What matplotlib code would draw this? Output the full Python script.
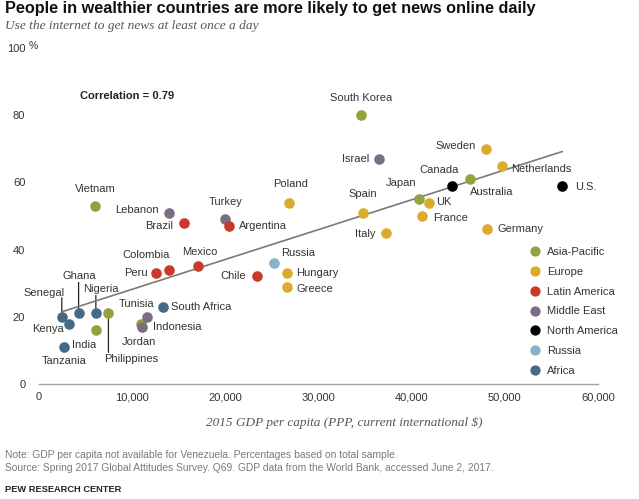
import matplotlib
matplotlib.use("Agg")
import matplotlib.pyplot as plt
from matplotlib.lines import Line2D
import numpy as np

plt.rcParams['font.family'] = ['Liberation Sans', 'DejaVu Sans']

# ---------------- data ----------------
countries = ["South Korea", "Australia", "Japan", "Vietnam", "India", "Philippines", "Indonesia",
             "Sweden", "Netherlands", "UK", "Spain", "France", "Italy", "Germany", "Poland", "Hungary", "Greece",
             "Brazil", "Argentina", "Mexico", "Colombia", "Peru", "Chile",
             "Israel", "Lebanon", "Turkey", "Tunisia", "Jordan",
             "Canada", "U.S.",
             "Russia",
             "Senegal", "Kenya", "Ghana", "Nigeria", "Tanzania", "South Africa"]
regions = ["Asia-Pacific"] * 7 + ["Europe"] * 10 + ["Latin America"] * 6 + ["Middle East"] * 5 + \
          ["North America"] * 2 + ["Russia"] + ["Africa"] * 6
gdp = [34600, 46300, 40800, 6050, 6200, 7500, 11000,
       48000, 49700, 41900, 34850, 41150, 37300, 48150, 26900, 26700, 26600,
       15550, 20400, 17100, 13950, 12650, 23400,
       36550, 13950, 20050, 11600, 11100,
       44300, 56150,
       25250,
       2500, 3250, 4300, 6150, 2750, 13300]
online_news = [80, 61, 55, 53, 16, 21, 18,
               70, 65, 54, 51, 50, 45, 46, 54, 33, 29,
               48, 47, 35, 34, 33, 32,
               67, 51, 49, 20, 17,
               59, 59,
               36,
               20, 18, 21, 21, 11, 23]

region_order = ["Asia-Pacific", "Europe", "Latin America", "Middle East", "North America", "Russia", "Africa"]
region_colors = ["#97a03f", "#dcaa2c", "#c83b2a", "#7b6e84", "#000000", "#8db0c9", "#436b88"]
draw_z = [3.0, 3.1, 3.3, 3.2, 3.4, 3.5, 3.6]

xticks = [0, 10000, 20000, 30000, 40000, 50000, 60000]
xticklabels = ["0", "10,000", "20,000", "30,000", "40,000", "50,000", "60,000"]
yticks = [0, 20, 40, 60, 80, 100]
yticklabels = ["0", "20", "40", "60", "80", "100"]

# label placement (offset in pixels, horizontal alignment)
label_pos = {
    "South Korea": (0, 17, "center"), "Sweden": (-10, 3, "right"), "Israel": (-10, 0, "right"),
    "Netherlands": (9, -3, "left"), "Canada": (-13, 16, "center"), "Japan": (-18, 16, "center"),
    "Australia": (0, -13, "left"), "U.S.": (13, -1, "left"), "UK": (7, 1, "left"),
    "Spain": (-1, 19, "center"), "France": (11, -2, "left"), "Italy": (-11, -1, "right"),
    "Germany": (10, 0, "left"), "Poland": (1, 19, "center"), "Turkey": (0, 17, "center"),
    "Argentina": (10, 0, "left"), "Lebanon": (-10, 3, "right"), "Brazil": (-10, -3, "right"),
    "Vietnam": (0, 17, "center"), "Mexico": (2, 14, "center"), "Colombia": (-23, 15, "center"),
    "Peru": (-9, 0, "right"), "Chile": (-11, 0, "right"), "Russia": (7, 10, "left"),
    "Hungary": (9, 0, "left"), "Greece": (10, -2, "left"), "South Africa": (8, 0, "left"),
    "Tunisia": (-10, 13, "center"), "Indonesia": (12, -3, "left"), "Jordan": (-3, -15, "center"),
    "Philippines": (-4, -46, "left"), "India": (0, -15, "right"), "Nigeria": (5, 24, "center"),
    "Ghana": (1, 37, "center"), "Senegal": (-18, 24, "center"), "Kenya": (-5, -5, "right"),
    "Tanzania": (0, -14, "center"),
}
leaders = {"Senegal": 19, "Ghana": 31, "Nigeria": 18, "Philippines": -39}

# ---------------- figure ----------------
fig = plt.figure(figsize=(6.39, 4.99), dpi=100)
W, H = 639, 499
ax = fig.add_axes([38.5 / W, 1 - 384 / H, 559.5 / W, 336 / H])
ax.set_xlim(0, 60000)
ax.set_ylim(0, 100)

gdp_a = np.array(gdp, dtype=float)
val_a = np.array(online_news, dtype=float)
reg_a = np.array(regions)

handles = []
for reg, col, z in zip(region_order, region_colors, draw_z):
    m = reg_a == reg
    ax.scatter(gdp_a[m], val_a[m], s=58, color=col, linewidths=0, zorder=z, clip_on=False)
    handles.append(Line2D([], [], marker="o", linestyle="none", markersize=7.4,
                          markerfacecolor=col, markeredgewidth=0, label=reg))

# trend line (least squares fit)
k, b = np.polyfit(gdp_a, val_a, 1)
xs = np.array([gdp_a.min(), gdp_a.max()])
ax.plot(xs, k * xs + b, color="#7a7a7a", lw=1.2, zorder=2)

px2pt = 72 / 100
for c, x, y in zip(countries, gdp, online_news):
    dx, dy, ha = label_pos[c]
    ax.annotate(c, (x, y), xytext=(dx * px2pt, dy * px2pt), textcoords="offset points",
                ha=ha, va="center", fontsize=8, color="#333333", zorder=5)
    if c in leaders:
        ax.annotate("", (x, y), xytext=(0, leaders[c] * px2pt), textcoords="offset points",
                    arrowprops=dict(arrowstyle="-", color="#222222", lw=0.9, shrinkA=0, shrinkB=0),
                    zorder=1)

ax.text((80 - 38.5) / 559.5, (384 - 96) / 336, "Correlation = 0.79", transform=ax.transAxes,
        fontsize=8, fontweight="bold", color="#222222", ha="left", va="center")

for sp in ["top", "right", "left"]:
    ax.spines[sp].set_visible(False)
ax.spines["bottom"].set_color("#a0a0a0")
ax.spines["bottom"].set_linewidth(1.0)
ax.set_xticks(xticks)
ax.set_xticklabels(xticklabels)
ax.set_yticks(yticks)
ax.set_yticklabels(yticklabels)
ax.tick_params(axis="both", length=0, labelsize=8, labelcolor="#333333")
ax.tick_params(axis="x", pad=6)
ax.tick_params(axis="y", pad=9.5)
ax.text(-0.0175, 100.6, "%", transform=ax.get_yaxis_transform(), fontsize=7.5, color="#333333",
        ha="left", va="center")

leg = ax.legend(handles=handles, loc="upper left", bbox_to_anchor=(0.8774, 0.4085),
                frameon=False, fontsize=8, handlelength=1.0, handletextpad=0.56,
                labelspacing=0.89, borderpad=0, borderaxespad=0)
for t in leg.get_texts():
    t.set_color("#333333")

fig.text(5 / W, 1 - 8 / H, "People in wealthier countries are more likely to get news online daily",
         family=["Liberation Sans Narrow", "Liberation Sans"], fontweight="bold", fontsize=11.7,
         color="#111111", ha="left", va="center")
fig.text(5 / W, 1 - 26 / H, "Use the internet to get news at least once a day",
         family=["Liberation Serif"], style="italic", fontsize=9.6, color="#555555", ha="left", va="center")
fig.text(344 / W, 1 - 423 / H, "2015 GDP per capita (PPP, current international $)",
         family=["Liberation Serif"], style="italic", fontsize=9.5, color="#555555", ha="center", va="center")
fig.text(5 / W, 1 - 455 / H,
         "Note: GDP per capita not available for Venezuela. Percentages based on total sample.",
         fontsize=7.4, color="#7a7a7a", ha="left", va="center")
fig.text(5 / W, 1 - 468 / H,
         "Source: Spring 2017 Global Attitudes Survey. Q69. GDP data from the World Bank, accessed June 2, 2017.",
         fontsize=7.4, color="#7a7a7a", ha="left", va="center")
fig.text(5 / W, 1 - 490 / H, "PEW RESEARCH CENTER", fontsize=6.7, fontweight="bold",
         color="#222222", ha="left", va="center")

fig.savefig("out.png", dpi=100)
